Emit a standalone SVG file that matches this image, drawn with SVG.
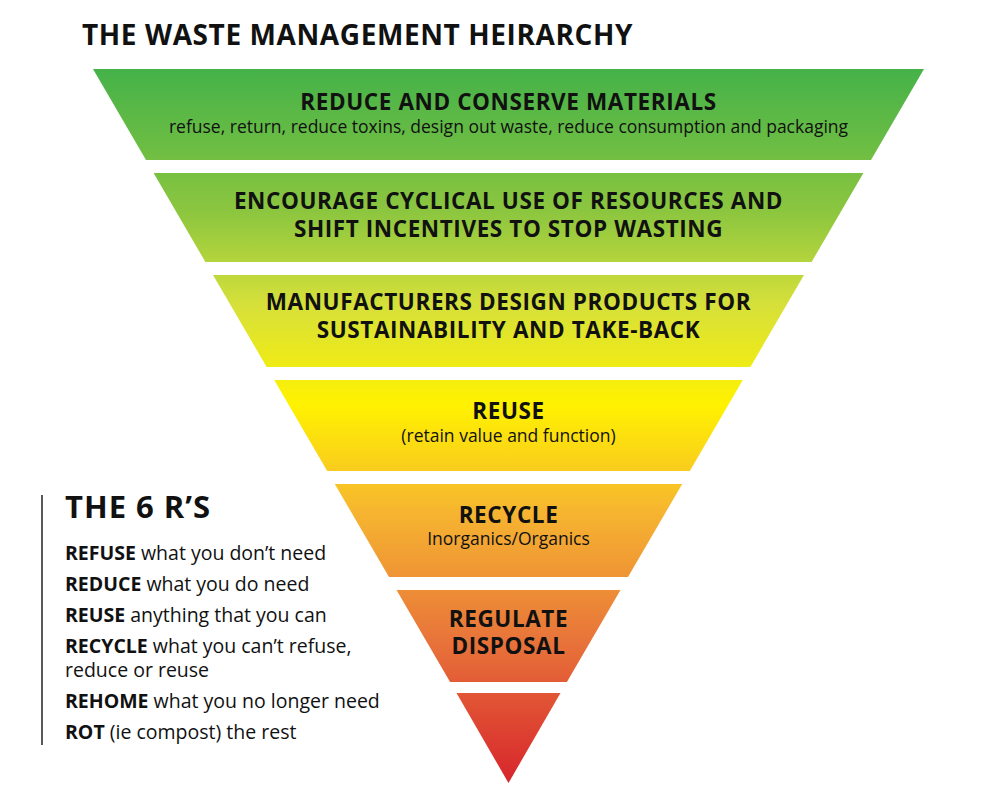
<svg xmlns="http://www.w3.org/2000/svg" width="1004" height="790" viewBox="0 0 1004 790">
<defs>
<linearGradient id="g" gradientUnits="userSpaceOnUse" x1="0" y1="69" x2="0" y2="783">
<stop offset="0" stop-color="#45b249"/>
<stop offset="0.2" stop-color="#8cc63f"/>
<stop offset="0.33" stop-color="#d6e03a"/>
<stop offset="0.47" stop-color="#fff200"/>
<stop offset="0.62" stop-color="#f6b530"/>
<stop offset="0.8" stop-color="#e8743a"/>
<stop offset="1" stop-color="#d7252c"/>
</linearGradient>
<style>
.b{fill:url(#g)}
text{font-family:"Open Sans","Liberation Sans",sans-serif;fill:#111}
.h{font-weight:bold;font-size:22.5px;letter-spacing:0.6px;text-anchor:middle}
.s{font-size:17.5px;text-anchor:middle}
.l{font-size:19.5px}
.l tspan.k{font-weight:bold}
</style>
</defs>
<rect width="1004" height="790" fill="#fff"/>
<text x="82" y="45" style="font-weight:bold;font-size:28px;letter-spacing:0.6px">THE WASTE MANAGEMENT HEIRARCHY</text>
<g id="band1"><polygon class="b" points="93,69 924,69 871,160 146,160"/>
<text class="h" x="508.5" y="110">REDUCE AND CONSERVE MATERIALS</text>
<text class="s" x="508.5" y="133">refuse, return, reduce toxins, design out waste, reduce consumption and packaging</text></g>
<g id="band2"><polygon class="b" points="153.6,173 863.4,173 811.6,262 205.4,262"/>
<text class="h" x="508.5" y="209">ENCOURAGE CYCLICAL USE OF RESOURCES AND</text>
<text class="h" x="508.5" y="237">SHIFT INCENTIVES TO STOP WASTING</text></g>
<g id="band3"><polygon class="b" points="213,275 804,275 750.4,367 266.6,367"/>
<text class="h" x="508.5" y="310">MANUFACTURERS DESIGN PRODUCTS FOR</text>
<text class="h" x="508.5" y="338">SUSTAINABILITY AND TAKE-BACK</text></g>
<g id="band4"><polygon class="b" points="274.2,380 742.8,380 689.8,471 327.2,471"/>
<text class="h" x="508.5" y="419">REUSE</text>
<text class="s" x="508.5" y="442">(retain value and function)</text></g>
<g id="band5"><polygon class="b" points="334.8,484 682.2,484 628,577 389,577"/>
<text class="h" x="508.5" y="523">RECYCLE</text>
<text class="s" x="508.5" y="545">Inorganics/Organics</text></g>
<g id="band6"><polygon class="b" points="396.5,590 620.5,590 566.9,682 450.1,682"/>
<text class="h" x="508.5" y="627">REGULATE</text>
<text class="h" x="508.5" y="654">DISPOSAL</text></g>
<g id="band7"><polygon class="b" points="456.5,693 560.5,693 508.5,783"/></g>
<g id="sixrs">
<line x1="42" y1="495" x2="42" y2="745" stroke="#222" stroke-width="1.5"/>
<text x="65" y="518" style="font-weight:bold;font-size:31px;letter-spacing:1px">THE 6 R’S</text>
<text class="l" x="65" y="560"><tspan class="k">REFUSE</tspan> what you don’t need</text>
<text class="l" x="65" y="591"><tspan class="k">REDUCE</tspan> what you do need</text>
<text class="l" x="65" y="622"><tspan class="k">REUSE</tspan> anything that you can</text>
<text class="l" x="65" y="653"><tspan class="k">RECYCLE</tspan> what you can’t refuse,</text>
<text class="l" x="65" y="677">reduce or reuse</text>
<text class="l" x="65" y="708"><tspan class="k">REHOME</tspan> what you no longer need</text>
<text class="l" x="65" y="739"><tspan class="k">ROT</tspan> (ie compost) the rest</text>
</g>
</svg>
